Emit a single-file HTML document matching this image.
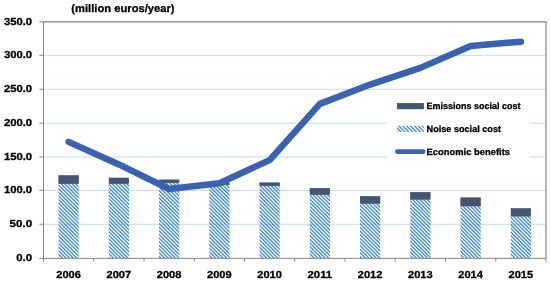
<!DOCTYPE html>
<html><head><meta charset="utf-8"><title>chart</title>
<style>
html,body{margin:0;padding:0;background:#fff;}
body{width:550px;height:283px;overflow:hidden;}
svg{display:block;}
text{font-family:"Liberation Sans",sans-serif;font-weight:bold;fill:#000;stroke:#000;stroke-width:0.3px;text-rendering:geometricPrecision;}
</style></head><body>
<svg width="550" height="283" viewBox="0 0 550 283">
<rect width="550" height="283" fill="#fff"/>

<line x1="43.5" x2="545.2" y1="224.26" y2="224.26" stroke="#c2daf6" stroke-width="1"/>
<line x1="43.5" x2="545.2" y1="190.37" y2="190.37" stroke="#c2daf6" stroke-width="1"/>
<line x1="43.5" x2="545.2" y1="156.98" y2="156.98" stroke="#c2daf6" stroke-width="1"/>
<line x1="43.5" x2="545.2" y1="123.15" y2="123.15" stroke="#c2daf6" stroke-width="1"/>
<line x1="43.5" x2="545.2" y1="89.26" y2="89.26" stroke="#c2daf6" stroke-width="1"/>
<line x1="43.5" x2="545.2" y1="55.37" y2="55.37" stroke="#c2daf6" stroke-width="1"/>
<clipPath id="bc"><rect x="58.52" y="183.87" width="20.2" height="74.48"/><rect x="108.78" y="183.87" width="20.2" height="74.48"/><rect x="159.03" y="182.99" width="20.2" height="75.36"/><rect x="209.28" y="185.02" width="20.2" height="73.33"/><rect x="259.52" y="186.03" width="20.2" height="72.32"/><rect x="309.77" y="194.82" width="20.2" height="63.53"/><rect x="360.02" y="203.61" width="20.2" height="54.74"/><rect x="410.27" y="199.55" width="20.2" height="58.80"/><rect x="460.52" y="206.31" width="20.2" height="52.04"/><rect x="510.77" y="216.45" width="20.2" height="41.90"/></clipPath>
<path clip-path="url(#bc)" d="M-47.69,170l89.4,89.4M-44.04,170l89.4,89.4M-40.39,170l89.4,89.4M-36.74,170l89.4,89.4M-33.09,170l89.4,89.4M-29.44,170l89.4,89.4M-25.79,170l89.4,89.4M-22.14,170l89.4,89.4M-18.49,170l89.4,89.4M-14.84,170l89.4,89.4M-11.19,170l89.4,89.4M-7.54,170l89.4,89.4M-3.89,170l89.4,89.4M-0.24,170l89.4,89.4M3.41,170l89.4,89.4M7.06,170l89.4,89.4M10.71,170l89.4,89.4M14.36,170l89.4,89.4M18.01,170l89.4,89.4M21.66,170l89.4,89.4M25.31,170l89.4,89.4M28.96,170l89.4,89.4M32.61,170l89.4,89.4M36.26,170l89.4,89.4M39.91,170l89.4,89.4M43.56,170l89.4,89.4M47.21,170l89.4,89.4M50.86,170l89.4,89.4M54.51,170l89.4,89.4M58.16,170l89.4,89.4M61.81,170l89.4,89.4M65.46,170l89.4,89.4M69.11,170l89.4,89.4M72.76,170l89.4,89.4M76.41,170l89.4,89.4M80.06,170l89.4,89.4M83.71,170l89.4,89.4M87.36,170l89.4,89.4M91.01,170l89.4,89.4M94.66,170l89.4,89.4M98.31,170l89.4,89.4M101.96,170l89.4,89.4M105.61,170l89.4,89.4M109.26,170l89.4,89.4M112.91,170l89.4,89.4M116.56,170l89.4,89.4M120.21,170l89.4,89.4M123.86,170l89.4,89.4M127.51,170l89.4,89.4M131.16,170l89.4,89.4M134.81,170l89.4,89.4M138.46,170l89.4,89.4M142.11,170l89.4,89.4M145.76,170l89.4,89.4M149.41,170l89.4,89.4M153.06,170l89.4,89.4M156.71,170l89.4,89.4M160.36,170l89.4,89.4M164.01,170l89.4,89.4M167.66,170l89.4,89.4M171.31,170l89.4,89.4M174.96,170l89.4,89.4M178.61,170l89.4,89.4M182.26,170l89.4,89.4M185.91,170l89.4,89.4M189.56,170l89.4,89.4M193.21,170l89.4,89.4M196.86,170l89.4,89.4M200.51,170l89.4,89.4M204.16,170l89.4,89.4M207.81,170l89.4,89.4M211.46,170l89.4,89.4M215.11,170l89.4,89.4M218.76,170l89.4,89.4M222.41,170l89.4,89.4M226.06,170l89.4,89.4M229.71,170l89.4,89.4M233.36,170l89.4,89.4M237.01,170l89.4,89.4M240.66,170l89.4,89.4M244.31,170l89.4,89.4M247.96,170l89.4,89.4M251.61,170l89.4,89.4M255.26,170l89.4,89.4M258.91,170l89.4,89.4M262.56,170l89.4,89.4M266.21,170l89.4,89.4M269.86,170l89.4,89.4M273.51,170l89.4,89.4M277.16,170l89.4,89.4M280.81,170l89.4,89.4M284.46,170l89.4,89.4M288.11,170l89.4,89.4M291.76,170l89.4,89.4M295.41,170l89.4,89.4M299.06,170l89.4,89.4M302.71,170l89.4,89.4M306.36,170l89.4,89.4M310.01,170l89.4,89.4M313.66,170l89.4,89.4M317.31,170l89.4,89.4M320.96,170l89.4,89.4M324.61,170l89.4,89.4M328.26,170l89.4,89.4M331.91,170l89.4,89.4M335.56,170l89.4,89.4M339.21,170l89.4,89.4M342.86,170l89.4,89.4M346.51,170l89.4,89.4M350.16,170l89.4,89.4M353.81,170l89.4,89.4M357.46,170l89.4,89.4M361.11,170l89.4,89.4M364.76,170l89.4,89.4M368.41,170l89.4,89.4M372.06,170l89.4,89.4M375.71,170l89.4,89.4M379.36,170l89.4,89.4M383.01,170l89.4,89.4M386.66,170l89.4,89.4M390.31,170l89.4,89.4M393.96,170l89.4,89.4M397.61,170l89.4,89.4M401.26,170l89.4,89.4M404.91,170l89.4,89.4M408.56,170l89.4,89.4M412.21,170l89.4,89.4M415.86,170l89.4,89.4M419.51,170l89.4,89.4M423.16,170l89.4,89.4M426.81,170l89.4,89.4M430.46,170l89.4,89.4M434.11,170l89.4,89.4M437.76,170l89.4,89.4M441.41,170l89.4,89.4M445.06,170l89.4,89.4M448.71,170l89.4,89.4M452.36,170l89.4,89.4M456.01,170l89.4,89.4M459.66,170l89.4,89.4M463.31,170l89.4,89.4M466.96,170l89.4,89.4M470.61,170l89.4,89.4M474.26,170l89.4,89.4M477.91,170l89.4,89.4M481.56,170l89.4,89.4M485.21,170l89.4,89.4M488.86,170l89.4,89.4M492.51,170l89.4,89.4M496.16,170l89.4,89.4M499.81,170l89.4,89.4M503.46,170l89.4,89.4M507.11,170l89.4,89.4M510.76,170l89.4,89.4M514.41,170l89.4,89.4M518.06,170l89.4,89.4M521.71,170l89.4,89.4M525.36,170l89.4,89.4M529.01,170l89.4,89.4M532.66,170l89.4,89.4M536.31,170l89.4,89.4M539.96,170l89.4,89.4M543.61,170l89.4,89.4M547.26,170l89.4,89.4" stroke="#3f8ad8" stroke-width="1.3" fill="none"/>
<rect x="58.82" y="175.65" width="19.599999999999998" height="7.92" fill="#445676" stroke="#364359" stroke-width="0.6"/>
<rect x="109.08" y="178.02" width="19.599999999999998" height="5.55" fill="#445676" stroke="#364359" stroke-width="0.6"/>
<rect x="159.33" y="179.91" width="19.599999999999998" height="2.78" fill="#445676" stroke="#364359" stroke-width="0.6"/>
<rect x="209.58" y="182.95" width="19.599999999999998" height="1.77" fill="#445676" stroke="#364359" stroke-width="0.6"/>
<rect x="259.82" y="182.82" width="19.599999999999998" height="2.91" fill="#445676" stroke="#364359" stroke-width="0.6"/>
<rect x="310.07" y="188.36" width="19.599999999999998" height="6.16" fill="#445676" stroke="#364359" stroke-width="0.6"/>
<rect x="360.32" y="196.47" width="19.599999999999998" height="6.83" fill="#445676" stroke="#364359" stroke-width="0.6"/>
<rect x="410.57" y="192.42" width="19.599999999999998" height="6.83" fill="#445676" stroke="#364359" stroke-width="0.6"/>
<rect x="460.82" y="197.82" width="19.599999999999998" height="8.19" fill="#445676" stroke="#364359" stroke-width="0.6"/>
<rect x="511.07" y="208.64" width="19.599999999999998" height="7.51" fill="#445676" stroke="#364359" stroke-width="0.6"/>
<path d="M43.5,21.8 H546.0 V258.35" fill="none" stroke="#848484" stroke-width="1.2"/>
<path d="M43.5,21.8 V258.35 H546.0" fill="none" stroke="#868686" stroke-width="1"/>
<line x1="39.3" x2="43.5" y1="258.35" y2="258.35" stroke="#868686" stroke-width="1"/>
<line x1="39.3" x2="43.5" y1="224.26" y2="224.26" stroke="#868686" stroke-width="1"/>
<line x1="39.3" x2="43.5" y1="190.37" y2="190.37" stroke="#868686" stroke-width="1"/>
<line x1="39.3" x2="43.5" y1="156.98" y2="156.98" stroke="#868686" stroke-width="1"/>
<line x1="39.3" x2="43.5" y1="123.15" y2="123.15" stroke="#868686" stroke-width="1"/>
<line x1="39.3" x2="43.5" y1="89.26" y2="89.26" stroke="#868686" stroke-width="1"/>
<line x1="39.3" x2="43.5" y1="55.37" y2="55.37" stroke="#868686" stroke-width="1"/>
<line x1="39.3" x2="43.5" y1="21.80" y2="21.80" stroke="#868686" stroke-width="1"/>
<line x1="43.50" x2="43.50" y1="258.35" y2="261.75" stroke="#868686" stroke-width="1"/>
<line x1="93.75" x2="93.75" y1="258.35" y2="261.75" stroke="#868686" stroke-width="1"/>
<line x1="144.00" x2="144.00" y1="258.35" y2="261.75" stroke="#868686" stroke-width="1"/>
<line x1="194.25" x2="194.25" y1="258.35" y2="261.75" stroke="#868686" stroke-width="1"/>
<line x1="244.50" x2="244.50" y1="258.35" y2="261.75" stroke="#868686" stroke-width="1"/>
<line x1="294.75" x2="294.75" y1="258.35" y2="261.75" stroke="#868686" stroke-width="1"/>
<line x1="345.00" x2="345.00" y1="258.35" y2="261.75" stroke="#868686" stroke-width="1"/>
<line x1="395.25" x2="395.25" y1="258.35" y2="261.75" stroke="#868686" stroke-width="1"/>
<line x1="445.50" x2="445.50" y1="258.35" y2="261.75" stroke="#868686" stroke-width="1"/>
<line x1="495.75" x2="495.75" y1="258.35" y2="261.75" stroke="#868686" stroke-width="1"/>
<line x1="546.00" x2="546.00" y1="258.35" y2="261.75" stroke="#868686" stroke-width="1"/>
<rect x="386.5" y="92" width="143.5" height="72" fill="#fff"/>
<polyline points="68.62,141.90 118.88,164.41 169.12,189.01 219.38,183.26 269.62,160.08 319.88,103.85 370.12,84.59 420.38,67.89 470.62,45.93 520.88,41.67" fill="none" stroke="#3a62b0" stroke-width="6.5" stroke-linecap="round" stroke-linejoin="round"/>
<rect x="397.2" y="103.3" width="26.4" height="5.6" fill="#445676" stroke="#364359" stroke-width="0.6"/>
<clipPath id="lc"><rect x="396.9" y="125.8" width="27" height="6.2"/></clipPath>
<path clip-path="url(#lc)" d="M389.60,124.5l9,9M393.50,124.5l9,9M397.40,124.5l9,9M401.30,124.5l9,9M405.20,124.5l9,9M409.10,124.5l9,9M413.00,124.5l9,9M416.90,124.5l9,9M420.80,124.5l9,9M424.70,124.5l9,9" stroke="#3f8ad8" stroke-width="1.3" fill="none"/>
<line x1="397.3" x2="423.1" y1="151.6" y2="151.6" stroke="#3a62b0" stroke-width="4.7" stroke-linecap="round"/>
<text x="426.6" y="109.4" font-size="9.2" textLength="94" lengthAdjust="spacingAndGlyphs">Emissions social cost</text>
<text x="426.6" y="132.1" font-size="9.2" textLength="74.4" lengthAdjust="spacingAndGlyphs">Noise social cost</text>
<text x="426.6" y="155.1" font-size="9.2" textLength="83.4" lengthAdjust="spacingAndGlyphs">Economic benefits</text>
<text x="71.3" y="11.8" font-size="11" textLength="103.3" lengthAdjust="spacingAndGlyphs">(million euros/year)</text>
<text x="16.3" y="261.40" font-size="10.2" textLength="15.8" lengthAdjust="spacingAndGlyphs">0.0</text>
<text x="9.6" y="227.31" font-size="10.2" textLength="22.5" lengthAdjust="spacingAndGlyphs">50.0</text>
<text x="3.9" y="193.42" font-size="10.2" textLength="28.2" lengthAdjust="spacingAndGlyphs">100.0</text>
<text x="3.9" y="160.03" font-size="10.2" textLength="28.2" lengthAdjust="spacingAndGlyphs">150.0</text>
<text x="3.9" y="126.20" font-size="10.2" textLength="28.2" lengthAdjust="spacingAndGlyphs">200.0</text>
<text x="3.9" y="92.31" font-size="10.2" textLength="28.2" lengthAdjust="spacingAndGlyphs">250.0</text>
<text x="3.9" y="58.42" font-size="10.2" textLength="28.2" lengthAdjust="spacingAndGlyphs">300.0</text>
<text x="3.9" y="24.85" font-size="10.2" textLength="28.2" lengthAdjust="spacingAndGlyphs">350.0</text>
<text x="56.33" y="277.6" font-size="10.2" textLength="24.6" lengthAdjust="spacingAndGlyphs">2006</text>
<text x="106.58" y="277.6" font-size="10.2" textLength="24.6" lengthAdjust="spacingAndGlyphs">2007</text>
<text x="156.82" y="277.6" font-size="10.2" textLength="24.6" lengthAdjust="spacingAndGlyphs">2008</text>
<text x="207.07" y="277.6" font-size="10.2" textLength="24.6" lengthAdjust="spacingAndGlyphs">2009</text>
<text x="257.32" y="277.6" font-size="10.2" textLength="24.6" lengthAdjust="spacingAndGlyphs">2010</text>
<text x="307.57" y="277.6" font-size="10.2" textLength="24.6" lengthAdjust="spacingAndGlyphs">2011</text>
<text x="357.82" y="277.6" font-size="10.2" textLength="24.6" lengthAdjust="spacingAndGlyphs">2012</text>
<text x="408.07" y="277.6" font-size="10.2" textLength="24.6" lengthAdjust="spacingAndGlyphs">2013</text>
<text x="458.32" y="277.6" font-size="10.2" textLength="24.6" lengthAdjust="spacingAndGlyphs">2014</text>
<text x="508.57" y="277.6" font-size="10.2" textLength="24.6" lengthAdjust="spacingAndGlyphs">2015</text>
</svg></body></html>
